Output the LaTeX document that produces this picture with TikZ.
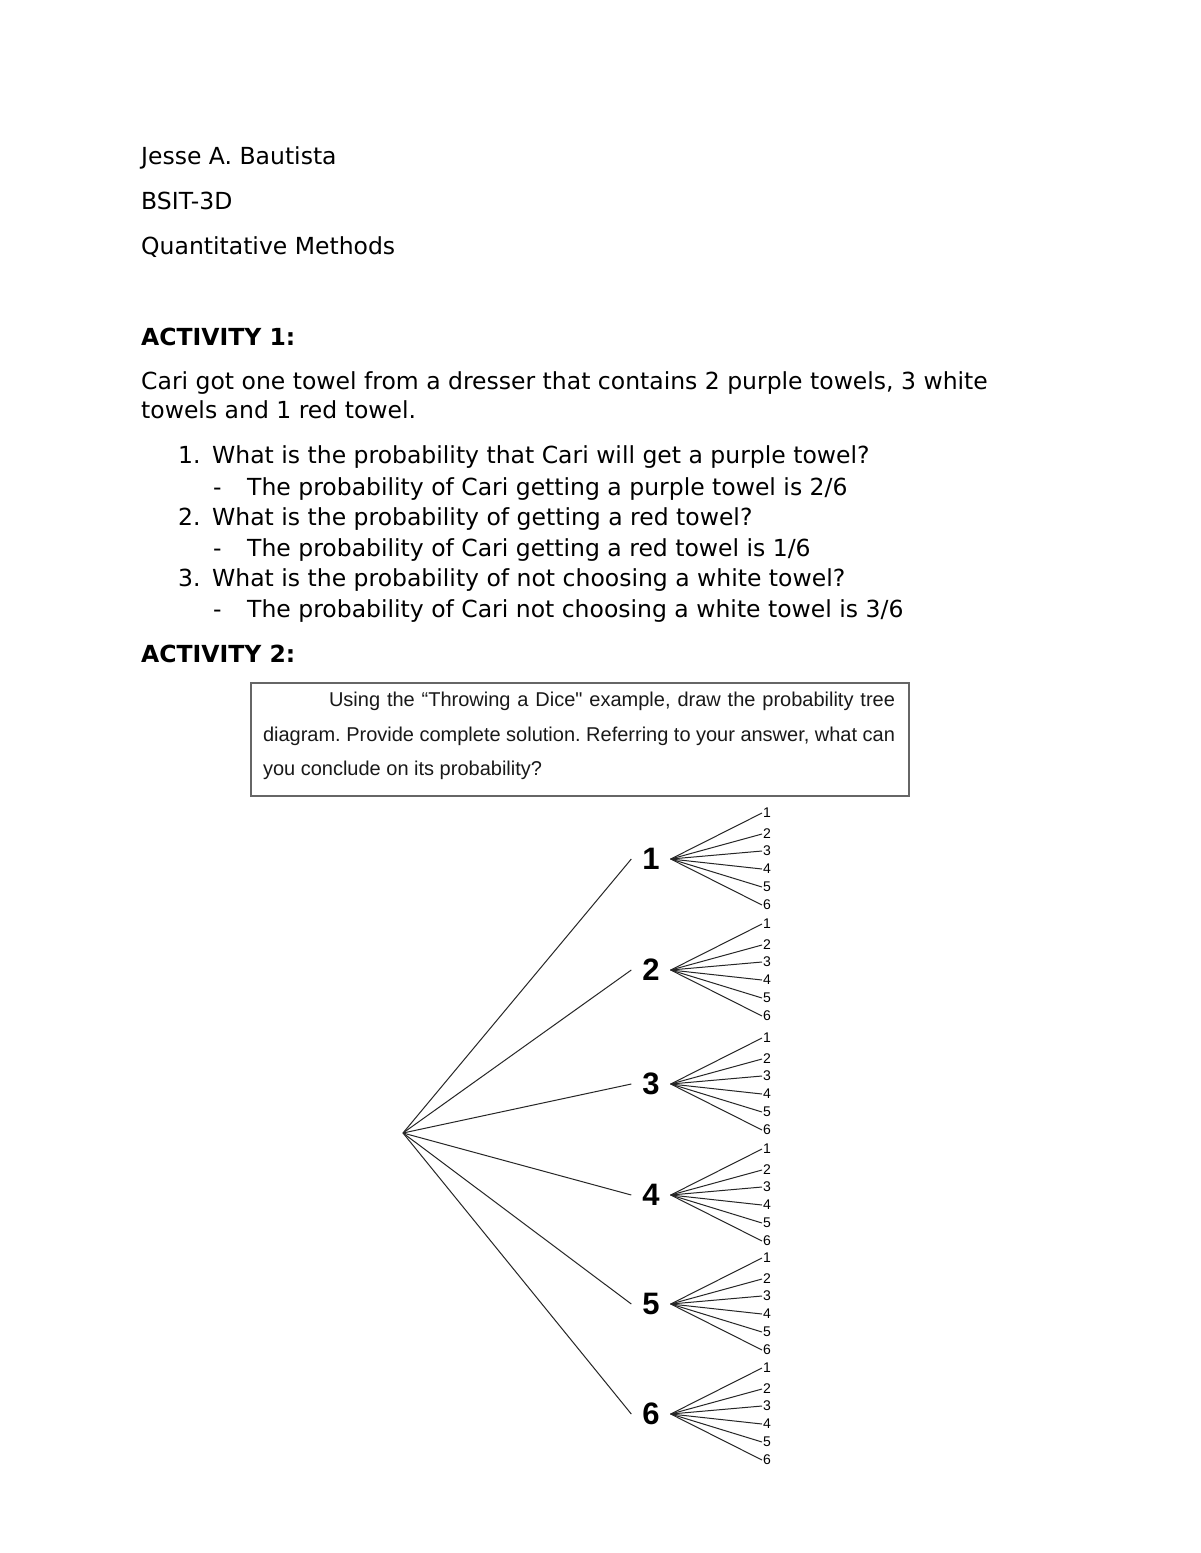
\documentclass[tikz,border=0pt]{standalone}
\usepackage{fontspec}
\setmainfont{DejaVu Sans}
\newfontfamily\arialfont{Liberation Sans}
\usetikzlibrary{positioning}

\begin{document}
\frenchspacing
\begin{tikzpicture}[
      x=1pt, y=-1pt,
      every node/.style={inner sep=0pt},
      line/.style={anchor=base west, font=\fontsize{23.5}{28}\selectfont},
      head/.style={line, font=\fontsize{23.5}{28}\selectfont\bfseries},
      taskbox/.style={draw=black!60, line width=1.5pt},
      branch/.style={line width=1pt, black!85},
      die/.style={minimum width=39pt, font=\arialfont\bfseries\fontsize{31}{31}\selectfont},
      face/.style={anchor=west, inner sep=1pt, font=\arialfont\fontsize{14}{14}\selectfont}
    ]
    \useasboundingbox[fill=white] (0,0) rectangle (1200,1553);

    % name block
    \node[line] (name) at (141,164) {Jesse A. Bautista};
    \node[line] (sect) at (141,209) {BSIT-3D};
    \node[line] (subj) at (141,254) {Quantitative Methods};

    % activity 1
    \node[head] (act1) at (141,345) {ACTIVITY 1:};
    \node[line] (probA) at (141,389) {Cari got one towel from a dresser that contains 2 purple towels, 3 white};
    \node[line] (probB) at (141,418) {towels and 1 red towel.};
    \node[line] (n1) at (178,463) {1.};
    \node[line] (q1) at (212,463) {What is the probability that Cari will get a purple towel?};
    \node[line] (m1) at (213,495) {-};
    \node[line] (a1) at (247,495) {The probability of Cari getting a purple towel is 2/6};
    \node[line] (n2) at (178,525) {2.};
    \node[line] (q2) at (212,525) {What is the probability of getting a red towel?};
    \node[line] (m2) at (213,556) {-};
    \node[line] (a2) at (247,556) {The probability of Cari getting a red towel is 1/6};
    \node[line] (n3) at (178,586) {3.};
    \node[line] (q3) at (212,586) {What is the probability of not choosing a white towel?};
    \node[line] (m3) at (213,617) {-};
    \node[line] (a3) at (247,617) {The probability of Cari not choosing a white towel is 3/6};

    % activity 2
    \node[head] (act2) at (141,662) {ACTIVITY 2:};
    \draw[taskbox] (251,683) rectangle (909,796);
    \node[align=left, text=black!90, font=\arialfont\fontsize{20}{34.5}\selectfont] (task) at (579,736)
      {\hspace*{66pt}\makebox[566pt][s]{Using the “Throwing a Dice" example, draw the probability tree}\\
       \makebox[632pt][s]{diagram. Provide complete solution. Referring to your answer, what can}\\
       you conclude on its probability?};

    % tree
    \coordinate (root) at (403,1133);
    \foreach \d/\y in {1/859,2/970,3/1084,4/1195,5/1304,6/1414} {
      \node[die] (d\d) at (651,\y) {\d};
      \draw[branch] (root) -- (d\d.west);
      \foreach \f/\o in {1/-46,2/-25,3/-8,4/10,5/28,6/46} {
        \node[face] (f\d\f) at (762,\y+\o) {\f};
        \draw[branch] (d\d.east) -- (f\d\f.west);
      }
    }
  \end{tikzpicture}
\end{document}
